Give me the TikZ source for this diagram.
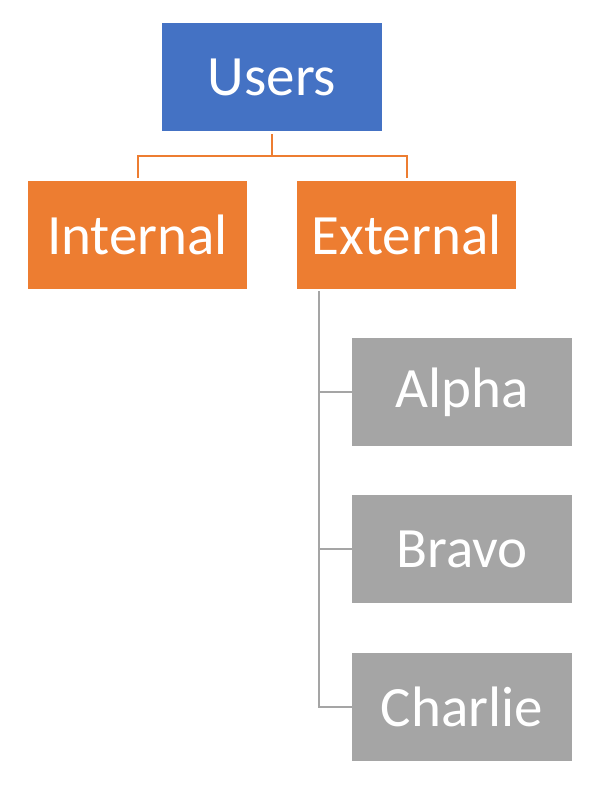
\documentclass[tikz,border=0pt]{standalone}
\usepackage{fontspec}
\setmainfont{Carlito}
\definecolor{cblue}{HTML}{4472C4}
\definecolor{corange}{HTML}{ED7D31}
\definecolor{cgray}{HTML}{A5A5A5}
\begin{document}
\begin{tikzpicture}[x=1pt,y=-1pt,
  box/.style={minimum width=220pt,minimum height=108pt,inner sep=0pt,text=white,font=\fontsize{57}{60}\selectfont},
  conn/.style={line width=2pt}]
\useasboundingbox (0,0) rectangle (603,787);
\node[box,fill=cblue] (users) at (272,77) {Users};
\node[box,fill=corange,minimum width=219pt] (internal) at (137.5,235) {Internal};
\node[box,fill=corange,minimum width=219pt] (external) at (406.5,235) {External};
\node[box,fill=cgray] (alpha) at (462,392) {Alpha};
\node[box,fill=cgray] (bravo) at (462,549) {Bravo};
\node[box,fill=cgray] (charlie) at (462,707) {Charlie};
\draw[conn,corange,shorten <=3pt,shorten >=3pt] (users.south) -- ++(0,25) -| (internal.north);
\draw[conn,corange,shorten <=3pt,shorten >=3pt] (users.south) -- ++(0,25) -| (external.north);
\coordinate (trunk) at ([xshift=-88pt]external.south);
\draw[conn,cgray,shorten <=2pt] (trunk) |- (charlie.west);
\draw[conn,cgray] (trunk |- alpha.west) -- (alpha.west);
\draw[conn,cgray] (trunk |- bravo.west) -- (bravo.west);
\end{tikzpicture}
\end{document}
